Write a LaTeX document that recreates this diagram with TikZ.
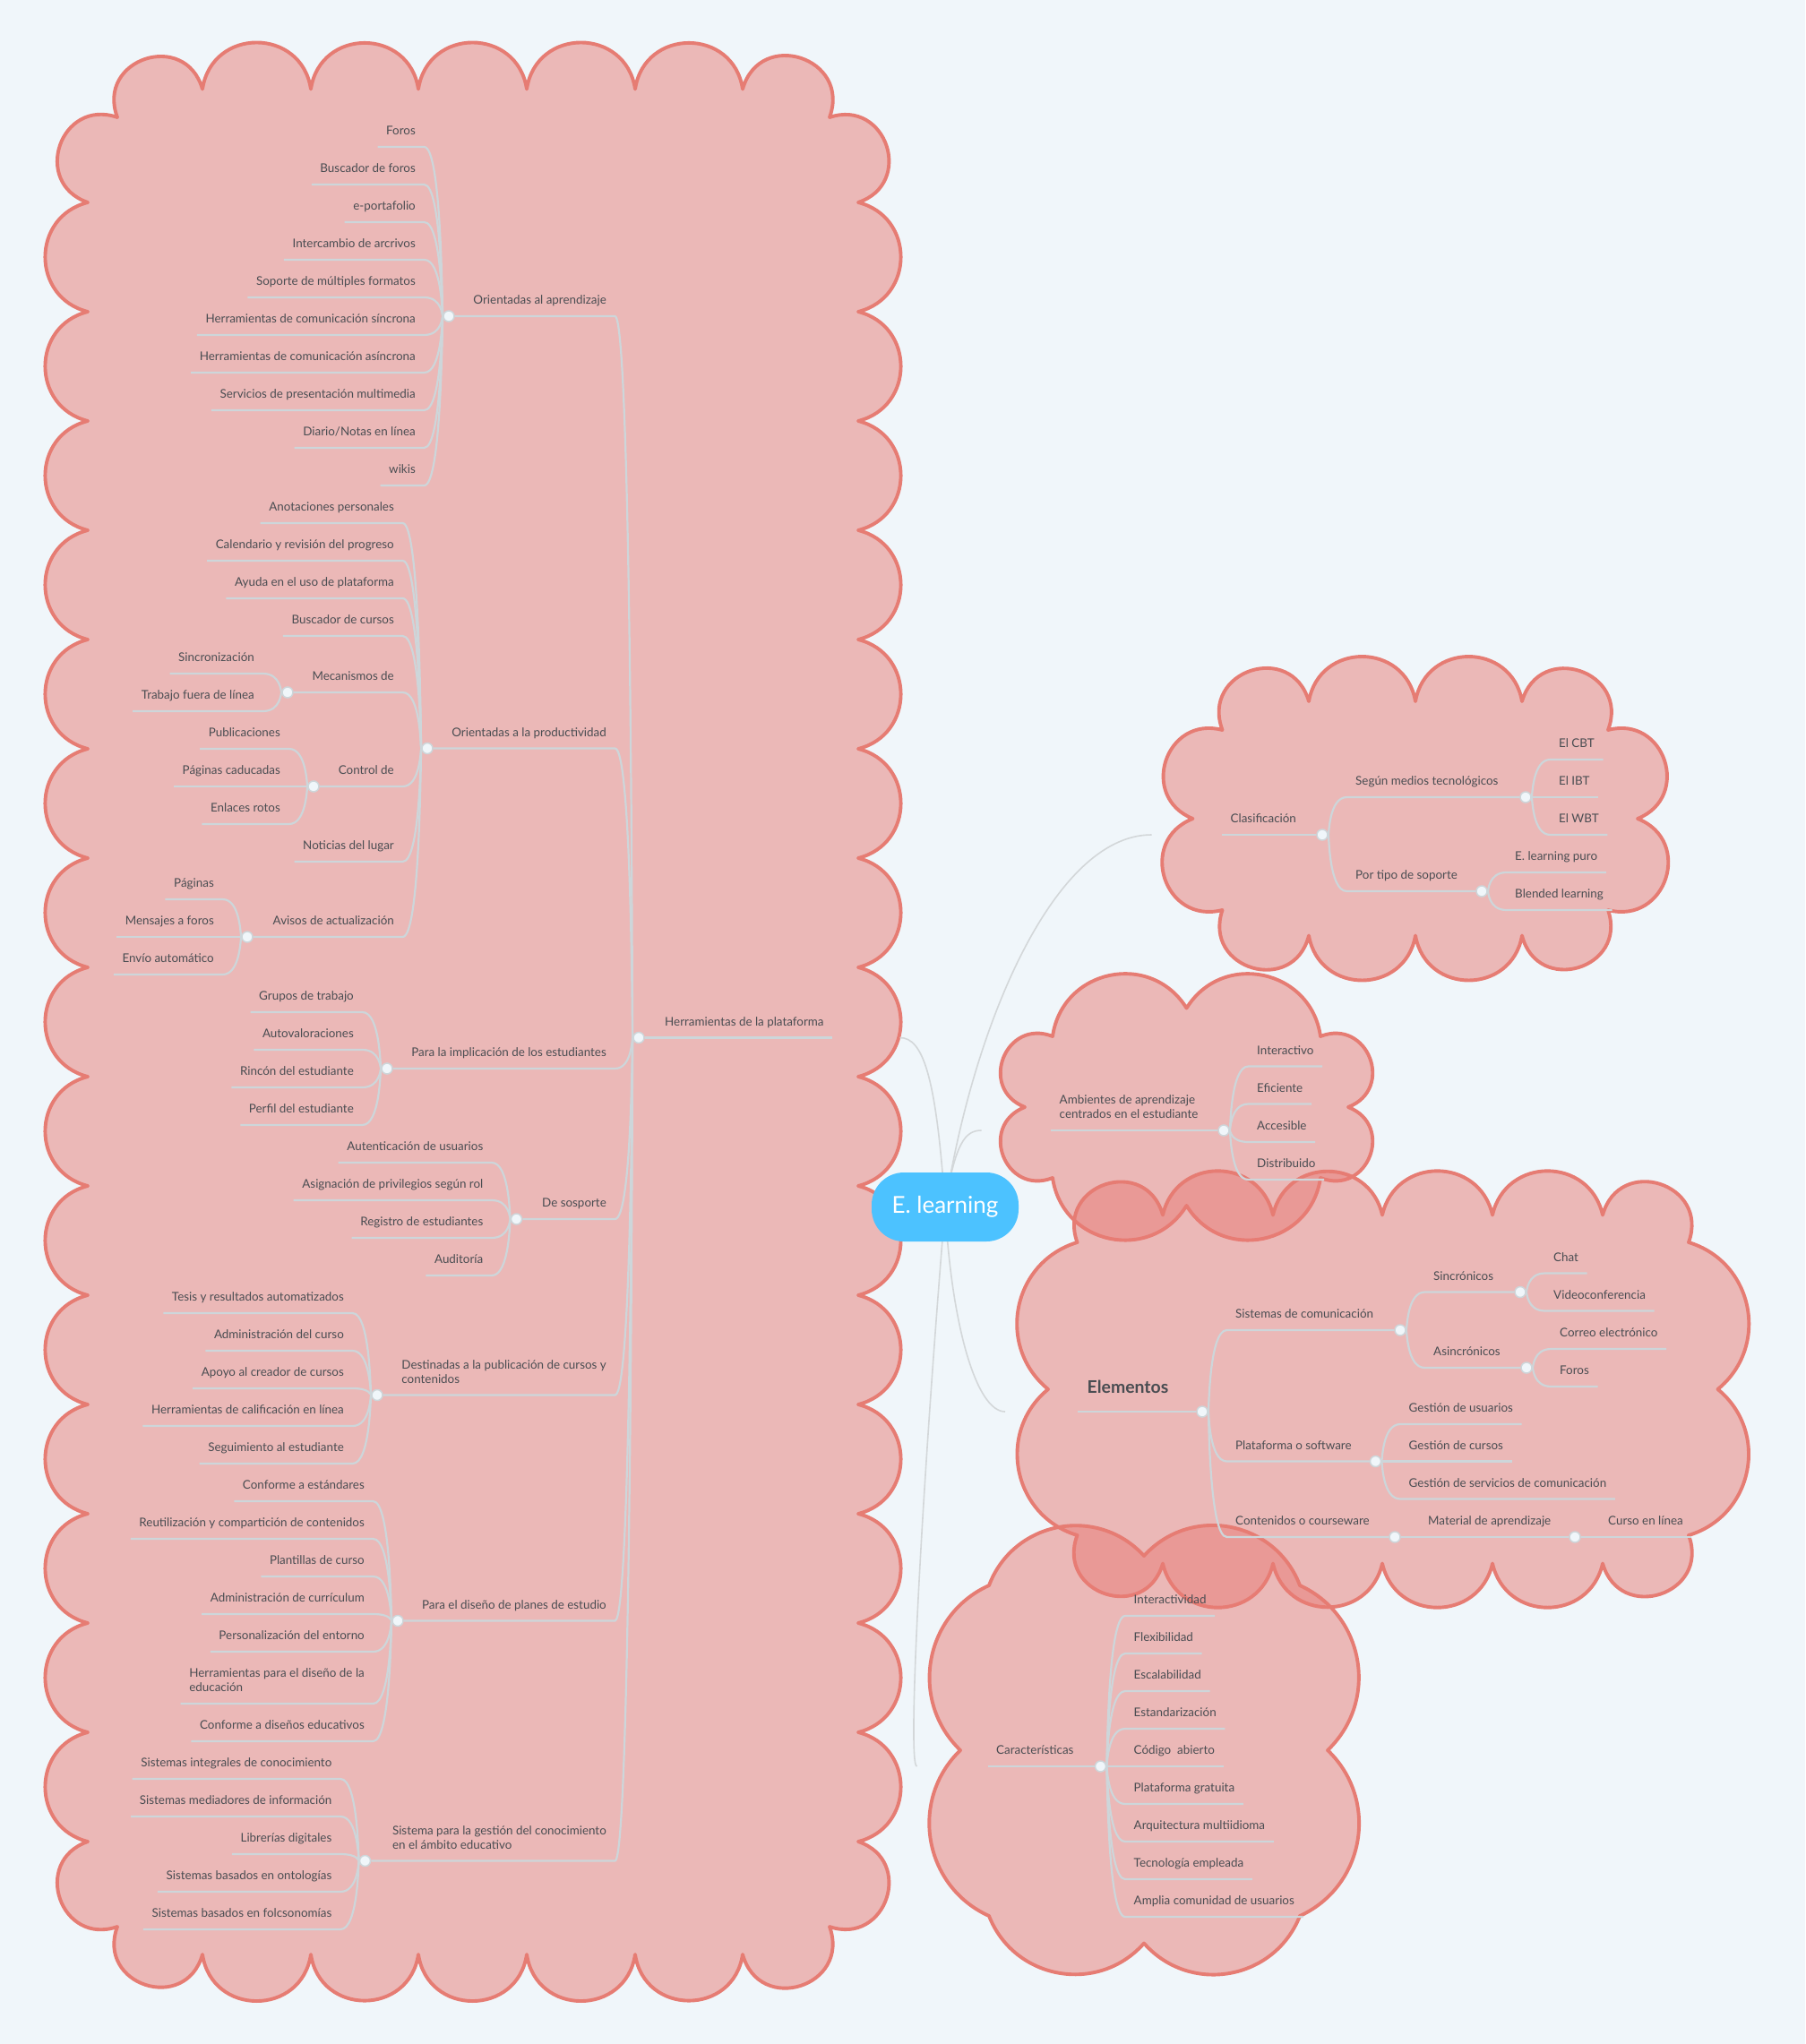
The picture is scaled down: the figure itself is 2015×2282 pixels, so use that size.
\documentclass[tikz,border=0pt]{standalone}
\usepackage{fontspec}
\usepackage{xcolor}
\setmainfont{Lato}
\usetikzlibrary{calc,backgrounds}
\definecolor{paper}{HTML}{F0F6FA}
\definecolor{cloudfill}{HTML}{E87C76}
\definecolor{cloudline}{HTML}{E67C73}
\definecolor{stem}{HTML}{CDD6DA}
\definecolor{trunkline}{HTML}{D3D7D9}
\definecolor{ink}{HTML}{4A4D52}
\definecolor{sky}{HTML}{4CC2FF}
\tikzset{
  leaf/.style={text=ink, font={\fontsize{13.4}{16}\selectfont}, inner xsep=9.5pt, inner ysep=13.3pt, text depth=0pt, align=left},
  leafL/.style={leaf, anchor=south east},
  leafR/.style={leaf, anchor=south west},
  jointdot/.style={circle, fill=paper, draw=stem, line width=1.5pt, minimum size=12pt, inner sep=0pt},
  stemline/.style={draw=stem, line width=2.2pt},
  forkL/.style={stemline, to path={let \p1=(\tikztostart),\p2=(\tikztotarget) in .. controls (\x1-7.5pt,\y1) and (\x1-7.5pt,\y2) .. (\x2,\y2)}},
  forkR/.style={stemline, to path={let \p1=(\tikztostart),\p2=(\tikztotarget) in .. controls (\x1+7.5pt,\y1) and (\x1+7.5pt,\y2) .. (\x2,\y2)}},
  trunk/.style={draw=trunkline, line width=1.6pt},
  cloudy/.style={fill=cloudfill, fill opacity=0.5, draw=cloudline, draw opacity=1, line width=3.9pt, line join=round},
  bump/.style n args={2}{to path={.. controls ($(\tikztostart)!#1!#2:(\tikztotarget)$) and ($(\tikztotarget)!#1!-#2:(\tikztostart)$) .. (\tikztotarget)}},
}
\begin{document}
\begin{tikzpicture}[x=1pt,y=-1pt]
\useasboundingbox (0,0) rectangle (2015,2282);

% centre
\node[fill=sky, text=white, rounded corners=36pt, minimum width=164pt, minimum height=77pt, inner sep=0pt, font={\fontsize{26}{30}\selectfont}] (elearn) at (1055,1347.5) {\raisebox{-2pt}{E. learning}};

% free ends of the thin connectors
\coordinate (endherr) at (1004.5,1158.5);
\coordinate (endclas) at (1285.5,932);
\coordinate (endamb) at (1095.5,1262);
\coordinate (endelem) at (1122,1576);
\coordinate (endcar) at (1023.5,1972);

% joints, left side
\node[jointdot] (jherr) at (713,1158.5) {};
\node[jointdot] (jo) at (501,353) {};
\node[jointdot] (jp) at (477,835.5) {};
\node[jointdot] (jm) at (321,773) {};
\node[jointdot] (jc) at (350,878) {};
\node[jointdot] (ja) at (276,1046) {};
\node[jointdot] (ji) at (432,1193) {};
\node[jointdot] (js) at (576.5,1361) {};
\node[jointdot] (jd) at (421,1557.5) {};
\node[jointdot] (je) at (444,1809.5) {};
\node[jointdot] (jg) at (407.5,2077.5) {};

% Herramientas
\node[leafR] (herr) at (732.5,1158.5) {Herramientas de la plataforma};
\node[leafL] (orient) at (686.5,353) {Orientadas al aprendizaje};
\node[leafL] (prod) at (686.5,835.5) {Orientadas a la productividad};
\node[leafL] (impl) at (686.5,1193) {Para la implicación de los estudiantes};
\node[leafL] (sop) at (686.5,1361) {De sosporte};
\node[leafL] (dest) at (686.5,1557.5) {Destinadas a la publicación de cursos y\\contenidos};
\node[leafL] (dis) at (686.5,1809.5) {Para el diseño de planes de estudio};
\node[leafL] (gest) at (686.5,2077.5) {Sistema para la gestión del conocimiento\\en el ámbito educativo};

\node[leafL] (o1) at (473.5,164) {Foros};
\node[leafL] (o2) at (473.5,206) {Buscador de foros};
\node[leafL] (o3) at (473.5,248) {e-portafolio};
\node[leafL] (o4) at (473.5,290) {Intercambio de arcrivos};
\node[leafL] (o5) at (473.5,332) {Soporte de múltiples formatos};
\node[leafL] (o6) at (473.5,374) {Herramientas de comunicación síncrona};
\node[leafL] (o7) at (473.5,416) {Herramientas de comunicación asíncrona};
\node[leafL] (o8) at (473.5,458) {Servicios de presentación multimedia};
\node[leafL] (o9) at (473.5,500) {Diario/Notas en línea};
\node[leafL] (o10) at (473.5,542) {wikis};

\node[leafL] (p1) at (449.5,584) {Anotaciones personales};
\node[leafL] (p2) at (449.5,626) {Calendario y revisión del progreso};
\node[leafL] (p3) at (449.5,668) {Ayuda en el uso de plataforma};
\node[leafL] (p4) at (449.5,710) {Buscador de cursos};
\node[leafL] (p5) at (449.5,962) {Noticias del lugar};
\node[leafL] (mec) at (449.5,773) {Mecanismos de};
\node[leafL] (ctrl) at (449.5,878) {Control de};
\node[leafL] (avis) at (449.5,1046) {Avisos de actualización};

\node[leafL] (m1) at (293.5,752) {Sincronización};
\node[leafL] (m2) at (293.5,794) {Trabajo fuera de línea};
\node[leafL] (c1) at (322.5,836) {Publicaciones};
\node[leafL] (c2) at (322.5,878) {Páginas caducadas};
\node[leafL] (c3) at (322.5,920) {Enlaces rotos};
\node[leafL] (a1) at (248.5,1004) {Páginas};
\node[leafL] (a2) at (248.5,1046) {Mensajes a foros};
\node[leafL] (a3) at (248.5,1088) {Envío automático};

\node[leafL] (i1) at (404.5,1130) {Grupos de trabajo};
\node[leafL] (i2) at (404.5,1172) {Autovaloraciones};
\node[leafL] (i3) at (404.5,1214) {Rincón del estudiante};
\node[leafL] (i4) at (404.5,1256) {Perfil del estudiante};

\node[leafL] (s1) at (549,1298) {Autenticación de usuarios};
\node[leafL] (s2) at (549,1340) {Asignación de privilegios según rol};
\node[leafL] (s3) at (549,1382) {Registro de estudiantes};
\node[leafL] (s4) at (549,1424) {Auditoría};

\node[leafL] (d1) at (393.5,1466) {Tesis y resultados automatizados};
\node[leafL] (d2) at (393.5,1508) {Administración del curso};
\node[leafL] (d3) at (393.5,1550) {Apoyo al creador de cursos};
\node[leafL] (d4) at (393.5,1592) {Herramientas de calificación en línea};
\node[leafL] (d5) at (393.5,1634) {Seguimiento al estudiante};

\node[leafL] (e1) at (416.5,1676) {Conforme a estándares};
\node[leafL] (e2) at (416.5,1718) {Reutilización y compartición de contenidos};
\node[leafL] (e3) at (416.5,1760) {Plantillas de curso};
\node[leafL] (e4) at (416.5,1802) {Administración de currículum};
\node[leafL] (e5) at (416.5,1844) {Personalización del entorno};
\node[leafL] (e6) at (416.5,1902) {Herramientas para el diseño de la\\educación};
\node[leafL] (e7) at (416.5,1944) {Conforme a diseños educativos};

\node[leafL] (g1) at (380,1986) {Sistemas integrales de conocimiento};
\node[leafL] (g2) at (380,2028) {Sistemas mediadores de información};
\node[leafL] (g3) at (380,2070) {Librerías digitales};
\node[leafL] (g4) at (380,2112) {Sistemas basados en ontologías};
\node[leafL] (g5) at (380,2154) {Sistemas basados en folcsonomías};

% Clasificacion
\node[jointdot] (jcl) at (1476,932) {};
\node[jointdot] (jt) at (1703,890) {};
\node[jointdot] (ju) at (1654,995) {};
\node[leafR] (clas) at (1364,932) {Clasificación};
\node[leafR] (tec) at (1503.5,890) {Según medios tecnológicos};
\node[leafR] (tip) at (1503.5,995) {Por tipo de soporte};
\node[leafR] (t1) at (1730.5,848) {El CBT};
\node[leafR] (t2) at (1730.5,890) {El IBT};
\node[leafR] (t3) at (1730.5,932) {El WBT};
\node[leafR] (u1) at (1681.5,974) {E. learning puro};
\node[leafR] (u2) at (1681.5,1016) {Blended learning};

% Ambientes
\node[jointdot] (jk) at (1366,1262) {};
\node[leafR] (amb) at (1173,1262) {Ambientes de aprendizaje\\centrados en el estudiante};
\node[leafR] (k1) at (1393.5,1190.5) {Interactivo};
\node[leafR] (k2) at (1393.5,1232.5) {Eficiente};
\node[leafR] (k3) at (1393.5,1275) {Accesible};
\node[leafR] (k4) at (1393.5,1317) {Distribuido};

% Elementos
\node[jointdot] (jel) at (1342,1576) {};
\node[jointdot] (jsi) at (1563,1485) {};
\node[jointdot] (jpl) at (1535.5,1631.5) {};
\node[jointdot] (jcn) at (1557,1716) {};
\node[jointdot] (jv) at (1697,1442.5) {};
\node[jointdot] (jw) at (1704,1527) {};
\node[jointdot] (jma) at (1758,1716) {};
\node[text=ink, font={\fontsize{19.4}{22}\selectfont\bfseries}, inner xsep=11pt, inner ysep=20pt, text depth=0pt, anchor=south west] (elem) at (1202.5,1576) {Elementos};
\node[leafR] (sis) at (1369.5,1485) {Sistemas de comunicación};
\node[leafR] (pla) at (1369.5,1631.5) {Plataforma o software};
\node[leafR] (con) at (1369.5,1716) {Contenidos o courseware};
\node[leafR] (sin) at (1590.5,1442.5) {Sincrónicos};
\node[leafR] (asi) at (1590.5,1527) {Asincrónicos};
\node[leafR] (v1) at (1724.5,1421.5) {Chat};
\node[leafR] (v2) at (1724.5,1463.5) {Videoconferencia};
\node[leafR] (w1) at (1731.5,1506) {Correo electrónico};
\node[leafR] (w2) at (1731.5,1548) {Foros};
\node[leafR] (x1) at (1563,1590) {Gestión de usuarios};
\node[leafR] (x2) at (1563,1631.5) {Gestión de cursos};
\node[leafR] (x3) at (1563,1673.5) {Gestión de servicios de comunicación};
\node[leafR] (mat) at (1584.5,1716) {Material de aprendizaje};
\node[leafR] (cur) at (1785.5,1716) {Curso en línea};

% Caracteristicas
\node[jointdot] (jf) at (1228.5,1972) {};
\node[leafR] (car) at (1102.5,1972) {Características};
\node[leafR] (f1) at (1256,1804) {Interactividad};
\node[leafR] (f2) at (1256,1846) {Flexibilidad};
\node[leafR] (f3) at (1256,1888) {Escalabilidad};
\node[leafR] (f4) at (1256,1930) {Estandarización};
\node[leafR] (f5) at (1256,1972) {Código\ \ abierto};
\node[leafR] (f6) at (1256,2014) {Plataforma gratuita};
\node[leafR] (f7) at (1256,2056) {Arquitectura multiidioma};
\node[leafR] (f8) at (1256,2098) {Tecnología empleada};
\node[leafR] (f9) at (1256,2140) {Amplia comunidad de usuarios};

\begin{scope}[on background layer]
\fill[paper] (0,0) rectangle (2015,2282);

% clouds, third number = height of the bump over its chord
\path[cloudy] (131,131) foreach \x/\y/\r [evaluate=\r as \k using 1/3+4*\r*\r/3, evaluate=\r as \a using 2*atan(2*\r)] in {
  226/99.5/0.52, 347/99.5/0.43, 467/99.5/0.43, 588/99.5/0.43, 709/99.5/0.43, 829/99.5/0.43, 926/131/0.52,
  958/226/0.5, 958/348/0.39, 958/470/0.39, 958/592/0.39, 958/714/0.39, 958/836/0.39, 958/958/0.39, 958/1080/0.39,
  958/1202/0.39, 958/1324/0.39, 958/1446/0.39, 958/1568/0.39, 958/1690/0.39, 958/1812/0.39, 958/1934/0.39, 958/2056/0.39,
  926/2151/0.5, 829/2182/0.52, 709/2182/0.43, 588/2182/0.43, 467/2182/0.43, 347/2182/0.43, 226/2182/0.43, 131/2151/0.52,
  98/2056/0.5, 98/1934/0.39, 98/1812/0.39, 98/1690/0.39, 98/1568/0.39, 98/1446/0.39, 98/1324/0.39, 98/1202/0.39,
  98/1080/0.39, 98/958/0.39, 98/836/0.39, 98/714/0.39, 98/592/0.39, 98/470/0.39, 98/348/0.39, 98/226/0.39, 131/131/0.5
} { to[bump={\k}{\a}] (\x,\y) } -- cycle;

\path[cloudy] (1364.5,815) foreach \x/\y/\r [evaluate=\r as \k using 1/3+4*\r*\r/3, evaluate=\r as \a using 2*atan(2*\r)] in {
  1461/783/0.52, 1580/783/0.42, 1699/783/0.42, 1795/815/0.52, 1828/914/0.47, 1795/1016/0.47,
  1699/1044.5/0.52, 1580/1044.5/0.42, 1461/1044.5/0.42, 1364.5/1016/0.52, 1331.5/914/0.47, 1364.5/815/0.47
} { to[bump={\k}{\a}] (\x,\y) } -- cycle;

\path[cloudy] (1175,1157) foreach \x/\y/\r [evaluate=\r as \k using 1/3+4*\r*\r/3, evaluate=\r as \a using 2*atan(2*\r)] in {
  1324.5/1125.5/0.35, 1474/1157/0.35, 1505/1236/0.5, 1474/1315/0.5, 1324.5/1346/0.35, 1175/1315/0.35, 1144/1236/0.5, 1175/1157/0.5
} { to[bump={\k}{\a}] (\x,\y) } -- cycle;

\path[cloudy] (1202.5,1387) foreach \x/\y/\r [evaluate=\r as \k using 1/3+4*\r*\r/3, evaluate=\r as \a using 2*atan(2*\r)] in {
  1298/1356.5/0.52, 1421/1356.5/0.4, 1543/1356.5/0.4, 1666/1356.5/0.4, 1789/1356.5/0.4, 1885/1387/0.52,
  1917.5/1551/0.3, 1885/1714/0.3, 1789/1745.5/0.52, 1666/1745.5/0.4, 1543/1745.5/0.4, 1421/1745.5/0.4, 1298/1745.5/0.4, 1202.5/1714/0.52,
  1170/1551/0.3, 1202.5/1387/0.3
} { to[bump={\k}{\a}] (\x,\y) } -- cycle;

\path[cloudy] (1104,1770) foreach \x/\y/\r [evaluate=\r as \k using 1/3+4*\r*\r/3, evaluate=\r as \a using 2*atan(2*\r)] in {
  1277/1737/0.28, 1451/1770/0.28, 1482/1954/0.265, 1451/2139/0.265, 1277/2169.5/0.28, 1104/2139/0.28, 1072/1954/0.265, 1104/1770/0.265
} { to[bump={\k}{\a}] (\x,\y) } -- cycle;

% thin connectors from the centre
\draw[trunk] (elearn.center) .. controls (1085,1150) and (1175,932) .. (endclas);
\draw[trunk] (elearn.center) .. controls (1066,1275) and (1078,1262) .. (endamb);
\draw[trunk] (elearn.center) .. controls (1045,1200) and (1030,1158.5) .. (endherr);
\draw[trunk] (elearn.center) .. controls (1062,1480) and (1090,1576) .. (endelem);
\draw[trunk] (elearn.center) .. controls (1030,1650) and (1012,1972) .. (endcar);

% left side
\draw[stemline] (jherr) -- (herr.south east);
\draw[forkL] (jherr) to (orient.south east) -- (jo);
\draw[forkL] (jherr) to (prod.south east) -- (jp);
\draw[forkL] (jherr) to (impl.south east) -- (ji);
\draw[forkL] (jherr) to (sop.south east) -- (js);
\draw[forkL] (jherr) to (dest.south east) -- (jd);
\draw[forkL] (jherr) to (dis.south east) -- (je);
\draw[forkL] (jherr) to (gest.south east) -- (jg);
\foreach \i in {1,...,10} \draw[forkL] (jo) to (o\i.south east) -- (o\i.south west);
\foreach \i in {1,...,5} \draw[forkL] (jp) to (p\i.south east) -- (p\i.south west);
\draw[forkL] (jp) to (mec.south east) -- (jm);
\draw[forkL] (jp) to (ctrl.south east) -- (jc);
\draw[forkL] (jp) to (avis.south east) -- (ja);
\foreach \i in {1,2} \draw[forkL] (jm) to (m\i.south east) -- (m\i.south west);
\foreach \i in {1,2,3} \draw[forkL] (jc) to (c\i.south east) -- (c\i.south west);
\foreach \i in {1,2,3} \draw[forkL] (ja) to (a\i.south east) -- (a\i.south west);
\foreach \i in {1,...,4} \draw[forkL] (ji) to (i\i.south east) -- (i\i.south west);
\foreach \i in {1,...,4} \draw[forkL] (js) to (s\i.south east) -- (s\i.south west);
\foreach \i in {1,...,5} \draw[forkL] (jd) to (d\i.south east) -- (d\i.south west);
\foreach \i in {1,...,7} \draw[forkL] (je) to (e\i.south east) -- (e\i.south west);
\foreach \i in {1,...,5} \draw[forkL] (jg) to (g\i.south east) -- (g\i.south west);

% right side
\draw[stemline] (clas.south west) -- (jcl);
\draw[forkR] (jcl) to (tec.south west) -- (jt);
\draw[forkR] (jcl) to (tip.south west) -- (ju);
\foreach \i in {1,2,3} \draw[forkR] (jt) to (t\i.south west) -- (t\i.south east);
\foreach \i in {1,2} \draw[forkR] (ju) to (u\i.south west) -- (u\i.south east);
\draw[stemline] (amb.south west) -- (jk);
\foreach \i in {1,...,4} \draw[forkR] (jk) to (k\i.south west) -- (k\i.south east);
\draw[stemline] (elem.south west) -- (jel);
\draw[forkR] (jel) to (sis.south west) -- (jsi);
\draw[forkR] (jel) to (pla.south west) -- (jpl);
\draw[forkR] (jel) to (con.south west) -- (jcn);
\draw[forkR] (jsi) to (sin.south west) -- (jv);
\draw[forkR] (jsi) to (asi.south west) -- (jw);
\foreach \i in {1,2} \draw[forkR] (jv) to (v\i.south west) -- (v\i.south east);
\foreach \i in {1,2} \draw[forkR] (jw) to (w\i.south west) -- (w\i.south east);
\foreach \i in {1,2,3} \draw[forkR] (jpl) to (x\i.south west) -- (x\i.south east);
\draw[stemline] (jcn) -- (mat.south west) -- (jma);
\draw[stemline] (jma) -- (cur.south east);
\draw[stemline] (car.south west) -- (jf);
\foreach \i in {1,...,9} \draw[forkR] (jf) to (f\i.south west) -- (f\i.south east);
\end{scope}
\end{tikzpicture}
\end{document}
